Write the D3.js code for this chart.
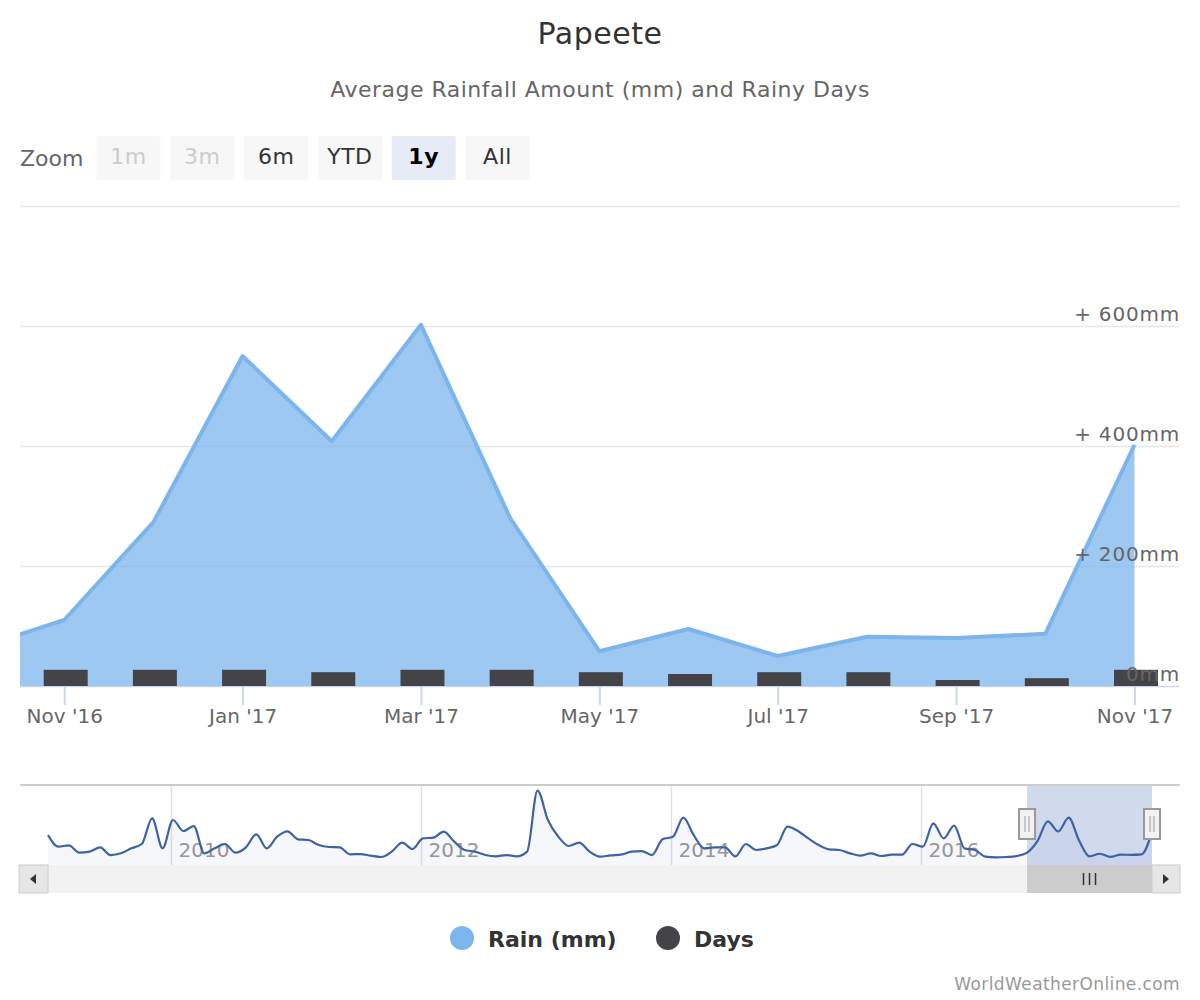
<!DOCTYPE html>
<html>
<head>
<meta charset="utf-8">
<title>Papeete</title>
<script src="https://cdn.jsdelivr.net/npm/d3@7"></script>
<style>
  html, body { margin: 0; background: #fff; }
  svg { display: block; font-family: "DejaVu Sans", sans-serif; }
</style>
</head>
<body>
<svg id="chart" width="1200" height="1000"></svg>
<script>
const rainMonthly = [
  359, 194, 213, 110, 124, 185, 77, 101, 171, 232, 593, 171,
  570, 415, 485, 101, 171, 232, 110, 185, 368, 171, 335, 410,
  298, 288, 218, 190, 185, 87, 91, 68, 49, 124, 251, 162,
  312, 321, 405, 265, 148, 124, 77, 58, 77, 58, 124, 982,
  570, 335, 204, 251, 124, 54, 72, 82, 124, 133, 77, 298,
  335, 602, 358, 171, 185, 185, 58, 232, 148, 171, 218, 476,
  415, 312, 218, 157, 148, 101, 68, 101, 63, 82, 82, 232,
  194, 522, 312, 490, 171, 148, 54, 44, 49, 62, 110, 273,
  550, 408, 602, 280, 58, 95, 50, 82, 80, 87, 402
];
const months = ["Oct '16", "Nov '16", "Dec '16", "Jan '17", "Feb '17", "Mar '17", "Apr '17", "May '17", "Jun '17", "Jul '17", "Aug '17", "Sep '17", "Oct '17", "Nov '17"];
const rainMain = rainMonthly.slice(-months.length);
const days = [27, 27, 27, 23, 27, 27, 23, 20, 23, 23, 10, 13, 27];
const monthTicks = ["Nov '16", "Jan '17", "Mar '17", "May '17", "Jul '17", "Sep '17", "Nov '17"];
const yGrid = [0, 200, 400, 600, 800];
const yLabels = [0, 200, 400, 600];
const navYears = [2010, 2012, 2014, 2016];
const zoomButtons = ["1m", "3m", "6m", "YTD", "1y", "All"];
const legendItems = ["Rain (mm)", "Days"];

const svg = d3.select("#chart");

// titles
svg.append("text").attr("x", 600).attr("y", 44).attr("text-anchor", "middle")
  .attr("font-size", 30).attr("letter-spacing", 0.5).attr("fill", "#333").text("Papeete");
svg.append("text").attr("x", 600).attr("y", 97).attr("text-anchor", "middle")
  .attr("font-size", 22).attr("letter-spacing", 0.5).attr("fill", "#666")
  .text("Average Rainfall Amount (mm) and Rainy Days");

// range selector
svg.append("text").attr("x", 20).attr("y", 166).attr("font-size", 22).attr("fill", "#666").text("Zoom");
const btn = svg.selectAll(".btn").data(zoomButtons).enter().append("g")
  .attr("class", "btn")
  .attr("transform", (d, i) => `translate(${96.5 + i * 73.8},136)`);
btn.append("rect").attr("width", 64).attr("height", 44).attr("rx", 2)
  .attr("fill", d => d === "1y" ? "#e6ebf5" : "#f7f7f7");
btn.append("text").attr("x", 32).attr("y", 28).attr("text-anchor", "middle").attr("font-size", 22)
  .attr("letter-spacing", 0.5)
  .attr("font-weight", d => d === "1y" ? "bold" : "normal")
  .attr("fill", (d, i) => i < 2 ? "#ccc" : d === "1y" ? "#000" : "#333")
  .text(d => d);

// main chart
const x = d3.scalePoint().domain(months).range([-25, 1134.5]);
const y = d3.scaleLinear().domain([0, 800]).range([686, 206]);

svg.append("defs").append("clipPath").attr("id", "plot")
  .append("rect").attr("x", 20).attr("y", 200).attr("width", 1160).attr("height", 490);

const grid = svg.append("g").attr("transform", "translate(20,0)")
  .call(d3.axisRight(y).tickValues(yGrid).tickSize(1160).tickFormat(""));
grid.select(".domain").remove();
grid.selectAll("line").attr("stroke", d => d === 0 ? "#ccd6eb" : "#e6e6e6").attr("stroke-width", 1.5);

const plot = svg.append("g").attr("clip-path", "url(#plot)");
const area = d3.area().x((d, i) => x(months[i])).y0(y(0)).y1(d => y(d));
const line = d3.line().x((d, i) => x(months[i])).y(d => y(d));
plot.append("path").datum(rainMain).attr("d", area).attr("fill", "#7cb5ec").attr("fill-opacity", 0.75);
plot.append("path").datum(rainMain).attr("d", line).attr("fill", "none")
  .attr("stroke", "#7cb5ec").attr("stroke-width", 4).attr("stroke-linejoin", "round");

const barWidth = x.step() * 0.493;
svg.selectAll(".bar").data(days).enter().append("rect")
  .attr("class", "bar")
  .attr("x", (d, i) => x(months[i + 1]) + 1.5 - barWidth / 2)
  .attr("y", d => y(d))
  .attr("width", barWidth)
  .attr("height", d => y(0) - y(d))
  .attr("fill", "#434348");

const xAxis = svg.append("g").attr("transform", "translate(0,687)")
  .call(d3.axisBottom(x).tickValues(monthTicks).tickSize(18).tickPadding(4));
xAxis.select(".domain").remove();
xAxis.selectAll("line").attr("stroke", "#ccd6eb").attr("stroke-width", 2);
xAxis.selectAll("text").attr("font-size", 20).attr("font-family", "DejaVu Sans").attr("fill", "#666");

svg.selectAll(".ylab").data(yLabels).enter().append("text")
  .attr("class", "ylab")
  .attr("x", 1180)
  .attr("y", d => y(d) - 5)
  .attr("text-anchor", "end").attr("font-size", 20).attr("letter-spacing", 0.8).attr("fill", "#666")
  .text(d => d === 0 ? "0mm" : `+ ${d}mm`);

// navigator
const navX = d3.scaleLinear().domain([0, rainMonthly.length - 1]).range([48, 1152]);
const navY = d3.scaleLinear().domain([0, 982]).range([860.5, 790.7]);
const yearX = d3.scaleLinear().domain([2009, 2018]).range([46, 1171]);

const navAxis = svg.append("g").attr("transform", "translate(0,785)")
  .call(d3.axisBottom(yearX).tickValues(navYears).tickFormat(d3.format("d")).tickSize(80).tickPadding(-22));
navAxis.select(".domain").remove();
navAxis.selectAll("line").attr("stroke", "#e0e0e0").attr("stroke-width", 1.5);
navAxis.selectAll("text").attr("font-size", 20).attr("font-family", "DejaVu Sans").attr("fill", "#999")
  .attr("text-anchor", "start").attr("dx", 7);

const navArea = d3.area().x((d, i) => navX(i)).y0(865).y1(d => navY(d)).curve(d3.curveMonotoneX);
const navLine = d3.line().x((d, i) => navX(i)).y(d => navY(d)).curve(d3.curveMonotoneX);
svg.append("path").datum(rainMonthly).attr("d", navArea).attr("fill", "#335cad").attr("fill-opacity", 0.05);

// selected window, Nov '16 to Nov '17
const selX0 = navX(rainMonthly.length - 13);
const selX1 = navX(rainMonthly.length - 1);
svg.append("rect").attr("x", selX0).attr("y", 785).attr("width", selX1 - selX0).attr("height", 80)
  .attr("fill", "#6685c2").attr("fill-opacity", 0.3);
svg.append("path").datum(rainMonthly).attr("d", navLine).attr("fill", "none")
  .attr("stroke", "#3f62a5").attr("stroke-width", 2.2);
svg.append("line").attr("x1", 20).attr("x2", 1180).attr("y1", 785).attr("y2", 785)
  .attr("stroke", "#ccc").attr("stroke-width", 2);

const handles = svg.selectAll(".handle").data([selX0, selX1]).enter().append("g")
  .attr("class", "handle").attr("transform", d => `translate(${d},824)`);
handles.append("rect").attr("x", -8).attr("y", -15).attr("width", 16).attr("height", 30)
  .attr("fill", "#f2f2f2").attr("stroke", "#999").attr("stroke-width", 2);
handles.selectAll("line").data([-2, 2]).enter().append("line")
  .attr("x1", d => d).attr("x2", d => d).attr("y1", -8).attr("y2", 8)
  .attr("stroke", "#999").attr("stroke-width", 1);

// scrollbar
svg.append("rect").attr("x", 48).attr("y", 865).attr("width", 1104).attr("height", 28).attr("fill", "#f2f2f2");
svg.append("rect").attr("x", selX0).attr("y", 865).attr("width", selX1 - selX0).attr("height", 28).attr("fill", "#ccc");
svg.selectAll(".grip").data([-6, 0, 6]).enter().append("line")
  .attr("class", "grip")
  .attr("x1", d => (selX0 + selX1) / 2 + d).attr("x2", d => (selX0 + selX1) / 2 + d)
  .attr("y1", 873).attr("y2", 885).attr("stroke", "#333").attr("stroke-width", 1.5);
svg.append("rect").attr("x", 19).attr("y", 865).attr("width", 29).attr("height", 28)
  .attr("fill", "#e6e6e6").attr("stroke", "#ccc");
svg.append("rect").attr("x", 1152).attr("y", 865).attr("width", 28).attr("height", 28)
  .attr("fill", "#e6e6e6").attr("stroke", "#ccc");
svg.append("path").attr("d", "M36,874 L30,879 L36,884 Z").attr("fill", "#333");
svg.append("path").attr("d", "M1163,874 L1169,879 L1163,884 Z").attr("fill", "#333");

// legend
const legendColor = d3.scaleOrdinal().domain(legendItems).range(["#7cb5ec", "#434348"]);
const legendX = d3.scaleOrdinal().domain(legendItems).range([462, 668]);
const legend = svg.selectAll(".leg").data(legendItems).enter().append("g")
  .attr("class", "leg").attr("transform", d => `translate(${legendX(d)},938)`);
legend.append("circle").attr("r", 12).attr("fill", d => legendColor(d));
legend.append("text").attr("x", 26).attr("y", 9).attr("font-size", 22).attr("font-weight", "bold")
  .attr("fill", "#333").text(d => d);

// credit
svg.append("text").attr("x", 1180).attr("y", 990).attr("text-anchor", "end")
  .attr("font-size", 17).attr("letter-spacing", 0.4).attr("fill", "#999").text("WorldWeatherOnline.com");
</script>
</body>
</html>
